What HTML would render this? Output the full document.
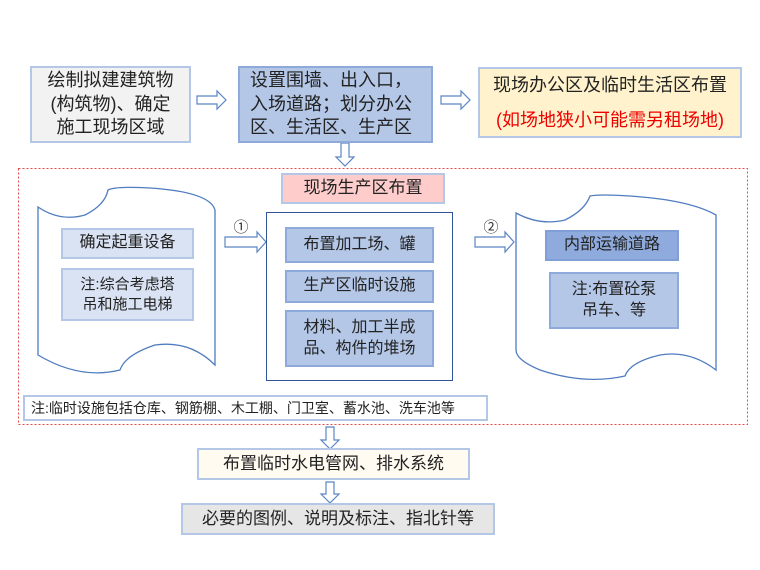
<!DOCTYPE html>
<html><head><meta charset="utf-8"><style>
body{margin:0;width:760px;height:570px;background:#fff;position:relative;overflow:hidden;font-family:"Liberation Sans","Noto Sans CJK SC",sans-serif;color:#222}
.b{position:absolute;box-sizing:border-box;display:flex;align-items:center;justify-content:center;text-align:center;line-height:1.3}
svg{position:absolute;left:0;top:0}
</style></head><body>
<svg width="760" height="570">
<g fill="none" stroke="#4f7cbf" stroke-width="1.3">
<path d="M38 207 Q60 222 85 215 Q105 205 108 190 Q115 186 150 188 Q210 192 215 210 L215 365 Q190 340 155 345 Q125 355 120 370 Q80 380 38 355 Z"/>
<path d="M516 213 Q540 226 565 220 Q585 210 590 196 Q600 194 630 196 Q690 200 716 215 L716 370 Q690 350 660 355 Q630 362 625 376 Q585 385 540 370 Q516 360 516 350 Z"/>
</g>
<g fill="#fff" stroke="#5b85c4" stroke-width="1.2">
<path d="M197 96 h20 v-5 l9 9 l-9 9 v-5 h-20 z"/>
<path d="M441 96 h20 v-5 l9 9 l-9 9 v-5 h-20 z"/>
<path d="M341 143 v14 h-5 l9 9 l9 -9 h-5 v-14 z"/>
<path d="M225 237 h32 v-5 l9 10 l-9 10 v-5 h-32 z"/>
<path d="M475 237 h30 v-5 l9 10 l-9 10 v-5 h-30 z"/>
<path d="M326 427 v13 h-5 l9 9 l9 -9 h-5 v-13 z"/>
<path d="M326 482 v12 h-5 l9 9 l9 -9 h-5 v-12 z"/>
</g>
<rect x="18.5" y="168.5" width="729" height="256" fill="none" stroke="#e64b4b" stroke-width="1" stroke-dasharray="2,2"/>
<text x="241" y="232" font-size="15" text-anchor="middle" fill="#333">①</text>
<text x="491" y="232" font-size="15" text-anchor="middle" fill="#333">②</text>
</svg>
<div class="b" style="left:30px;top:66px;width:161px;height:77px;background:#f2f2f2;border:2px solid #b4c7e7;font-size:18px">绘制拟建建筑物<br>(构筑物)、确定<br>施工现场区域</div>
<div class="b" style="left:238px;top:66px;width:195px;height:77px;background:#b4c7e7;border:2px solid #8eaadb;font-size:18px;text-align:left;justify-content:flex-start;padding-left:10px">设置围墙、出入口，<br>入场道路；划分办公<br>区、生活区、生产区</div>
<div class="b" style="left:478px;top:67px;width:264px;height:71px;background:#fff2cc;border:2px solid #b4c7e7;font-size:18px;flex-direction:column;line-height:1.9">现场办公区及临时生活区布置<span style="color:#e00">(如场地狭小可能需另租场地)</span></div>
<div class="b" style="left:281px;top:173px;width:164px;height:31px;background:#ffcccc;border:2px solid #b4c7e7;font-size:17px">现场生产区布置</div>
<div class="b" style="left:61px;top:228px;width:133px;height:31px;background:#dae3f3;border:2px solid #b4c7e7;font-size:16px">确定起重设备</div>
<div class="b" style="left:61px;top:268px;width:133px;height:53px;background:#dae3f3;border:2px solid #b4c7e7;font-size:15px">注:综合考虑塔<br>吊和施工电梯</div>
<div class="b" style="left:266px;top:212px;width:187px;height:169px;border:1.5px solid #2f5597"></div>
<div class="b" style="left:285px;top:227px;width:149px;height:36px;background:#b4c7e7;border:2px solid #8eaadb;font-size:16px">布置加工场、罐</div>
<div class="b" style="left:285px;top:270px;width:149px;height:33px;background:#b4c7e7;border:2px solid #8eaadb;font-size:16px">生产区临时设施</div>
<div class="b" style="left:285px;top:310px;width:149px;height:57px;background:#b4c7e7;border:2px solid #8eaadb;font-size:16px">材料、加工半成<br>品、构件的堆场</div>
<div class="b" style="left:545px;top:230px;width:134px;height:31px;background:#8faadc;border:2px solid #7f9fd6;font-size:16px">内部运输道路</div>
<div class="b" style="left:549px;top:272px;width:130px;height:57px;background:#b4c7e7;border:2px solid #8eaadb;font-size:16px">注:布置砼泵<br>吊车、等</div>
<div class="b" style="left:23px;top:395px;width:465px;height:26px;background:#fff;border:2px solid #b4c7e7;font-size:14px;justify-content:flex-start;padding-left:6px">注:临时设施包括仓库、钢筋棚、木工棚、门卫室、蓄水池、洗车池等</div>
<div class="b" style="left:197px;top:448px;width:273px;height:32px;background:#fffbf0;border:2px solid #b4c7e7;font-size:17px">布置临时水电管网、排水系统</div>
<div class="b" style="left:181px;top:503px;width:314px;height:32px;background:#e6e6e6;border:2px solid #b4c7e7;font-size:17px">必要的图例、说明及标注、指北针等</div>
</body></html>
